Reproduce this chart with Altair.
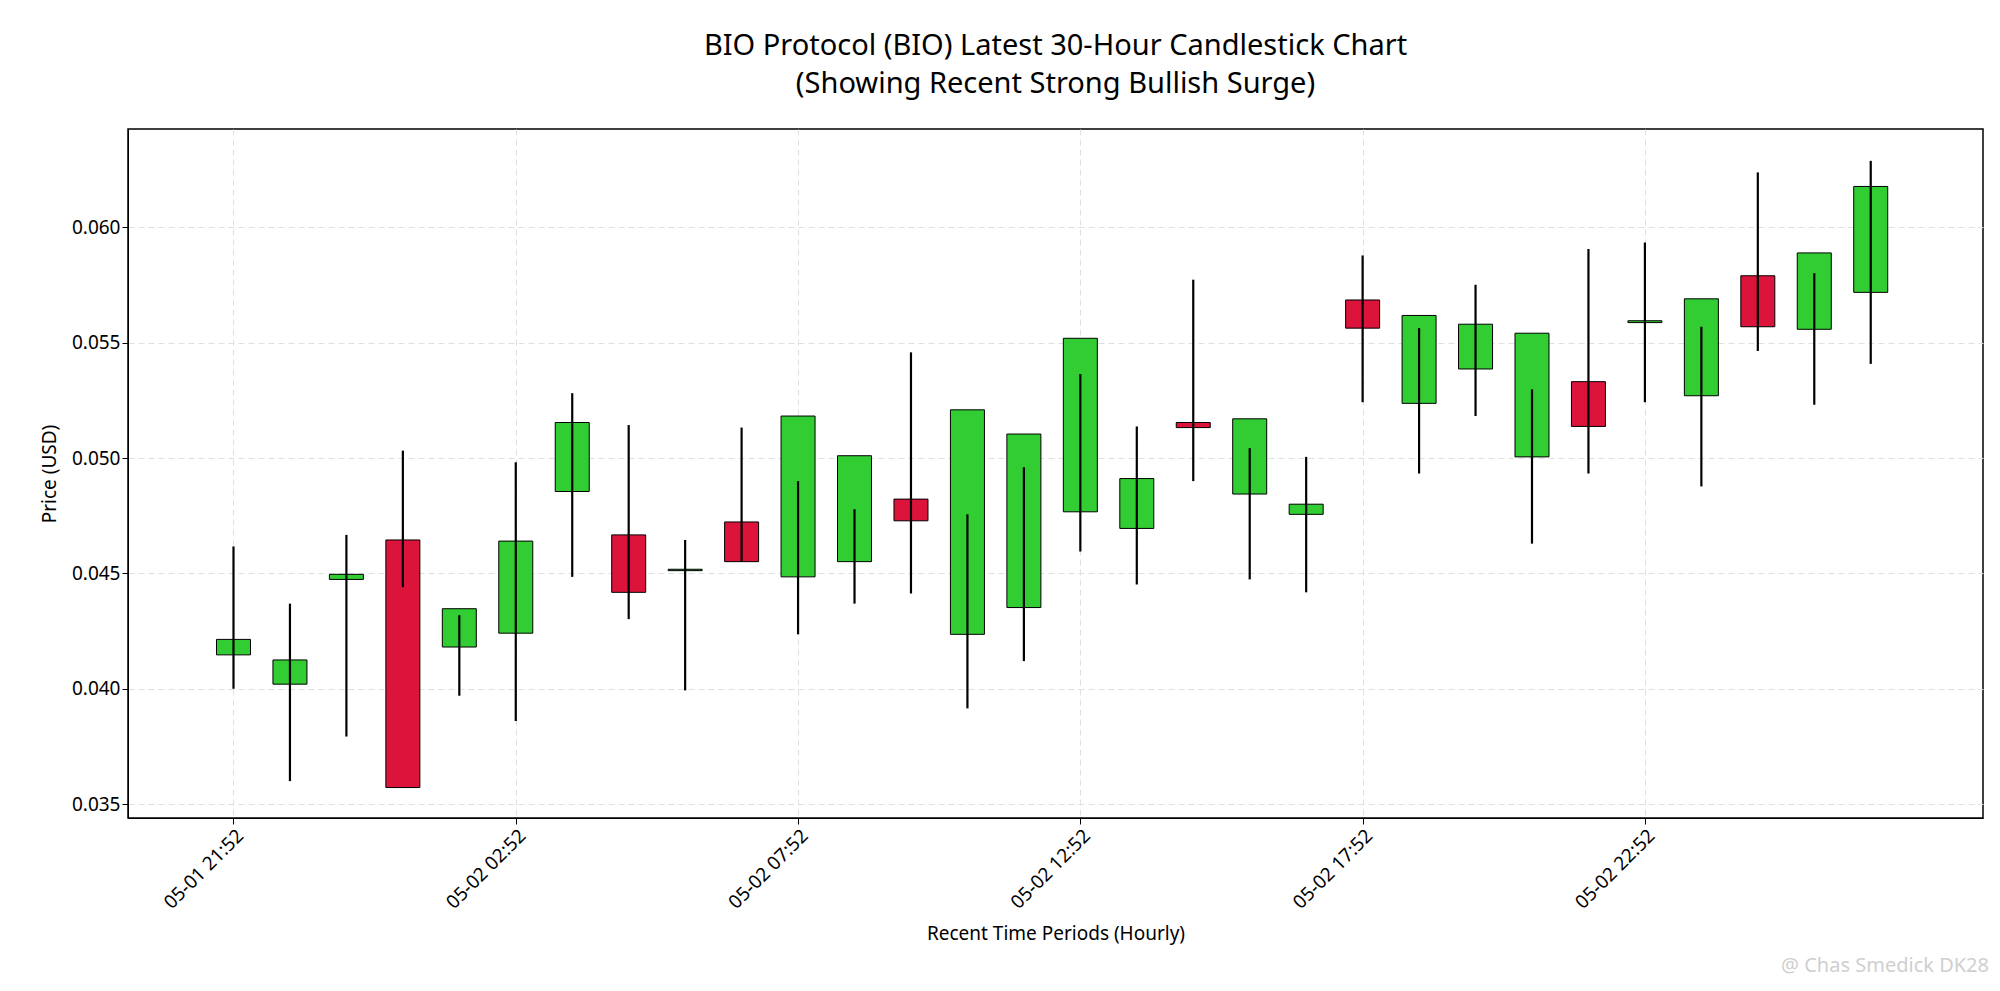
import altair as alt
import pandas as pd

# hourly candles starting 05-01 21:52
times = ["05-01 21:52", "05-01 22:52", "05-01 23:52", "05-02 00:52", "05-02 01:52",
         "05-02 02:52", "05-02 03:52", "05-02 04:52", "05-02 05:52", "05-02 06:52",
         "05-02 07:52", "05-02 08:52", "05-02 09:52", "05-02 10:52", "05-02 11:52",
         "05-02 12:52", "05-02 13:52", "05-02 14:52", "05-02 15:52", "05-02 16:52",
         "05-02 17:52", "05-02 18:52", "05-02 19:52", "05-02 20:52", "05-02 21:52",
         "05-02 22:52", "05-02 23:52", "05-03 00:52", "05-03 01:52", "05-03 02:52"]
opens = [0.04147, 0.04020, 0.04474, 0.04645, 0.04181, 0.04241, 0.04855, 0.04667, 0.04512, 0.04723,
         0.04485, 0.04551, 0.04822, 0.04236, 0.04352, 0.04767, 0.04695, 0.05154, 0.04844, 0.04756,
         0.05685, 0.05237, 0.05386, 0.05005, 0.05331, 0.05587, 0.05270, 0.05790, 0.05558, 0.05718]
closes = [0.04214, 0.04125, 0.04496, 0.03572, 0.04347, 0.04640, 0.05154, 0.04418, 0.04518, 0.04551,
          0.05182, 0.05010, 0.04728, 0.05209, 0.05104, 0.05519, 0.04911, 0.05132, 0.05170, 0.04800,
          0.05563, 0.05618, 0.05580, 0.05541, 0.05137, 0.05595, 0.05690, 0.05569, 0.05889, 0.06177]
highs = [0.04617, 0.04369, 0.04667, 0.05032, 0.04319, 0.04982, 0.05281, 0.05143, 0.04645, 0.05132,
         0.04900, 0.04778, 0.05458, 0.04756, 0.04960, 0.05364, 0.05137, 0.05773, 0.05043, 0.05005,
         0.05878, 0.05563, 0.05751, 0.05298, 0.05906, 0.05934, 0.05569, 0.06238, 0.05801, 0.06288]
lows = [0.04000, 0.03600, 0.03793, 0.04440, 0.03970, 0.03860, 0.04485, 0.04302, 0.03993, 0.04551,
        0.04236, 0.04369, 0.04413, 0.03915, 0.04120, 0.04595, 0.04452, 0.04900, 0.04474, 0.04418,
        0.05242, 0.04933, 0.05182, 0.04629, 0.04933, 0.05242, 0.04877, 0.05464, 0.05231, 0.05408]

df = pd.DataFrame({"idx": range(len(times)), "time": times, "open": opens, "close": closes,
                   "high": highs, "low": lows})
df["dir"] = ["up" if c >= o else "down" for o, c in zip(opens, closes)]

FONT = "Noto Sans"
W, H = 1855, 689
tick_idx = list(range(0, 30, 5))
label_expr = "[" + ",".join(f"'{times[i]}'" for i in tick_idx) + "][datum.value/5]"

x = alt.X("idx:Q", scale=alt.Scale(domain=[-1.78, 30.9], nice=False, zero=False),
          title="Recent Time Periods (Hourly)",
          axis=alt.Axis(values=tick_idx, labelExpr=label_expr, labelAngle=-45, labelAlign="right",
                        labelBaseline="top", gridDash=[6, 4], gridColor="#e0e0e0", titlePadding=12))
yscale = alt.Scale(domain=[0.0344, 0.06426], nice=False, zero=False)

base = alt.Chart(df)
bodies = base.mark_bar(size=34, stroke="black", strokeWidth=1).encode(
    x=x,
    y=alt.Y("open:Q", scale=yscale, title="Price (USD)",
            axis=alt.Axis(values=[0.035, 0.040, 0.045, 0.050, 0.055, 0.060], format=".3f",
                          gridDash=[6, 4], gridColor="#e0e0e0", titlePadding=12)),
    y2="close:Q",
    color=alt.Color("dir:N", scale=alt.Scale(domain=["up", "down"], range=["#32CD32", "#DC143C"]),
                    legend=None),
)
wicks = base.mark_rule(color="black", strokeWidth=2.2).encode(
    x="idx:Q", y=alt.Y("low:Q", scale=yscale), y2="high:Q")

watermark = alt.Chart(pd.DataFrame({"t": ["@ Chas Smedick DK28"]})).mark_text(
    font=FONT, fontSize=20, color="#cfcfcf", align="right", baseline="middle"
).encode(text="t:N", x=alt.value(W + 6), y=alt.value(H + 148))

chart = (bodies + wicks + watermark).properties(
    width=W, height=H,
    autosize=alt.AutoSizeParams(type="none"),
    padding={"left": 120, "top": 121, "right": 9, "bottom": 165},
    title=alt.TitleParams(["BIO Protocol (BIO) Latest 30-Hour Candlestick Chart",
                           "(Showing Recent Strong Bullish Surge)"],
                          font=FONT, fontSize=29, fontWeight="normal", color="black",
                          anchor="middle", offset=30, lineHeight=38),
).configure_view(stroke="black", strokeWidth=1.5).configure_axis(
    labelFont=FONT, titleFont=FONT, labelFontSize=19, titleFontSize=19,
    labelColor="black", titleColor="black", titleFontWeight="normal",
    domainColor="black", tickColor="black", tickSize=6,
)

chart.save("out.html", embed_options={"renderer": "svg", "actions": False})
